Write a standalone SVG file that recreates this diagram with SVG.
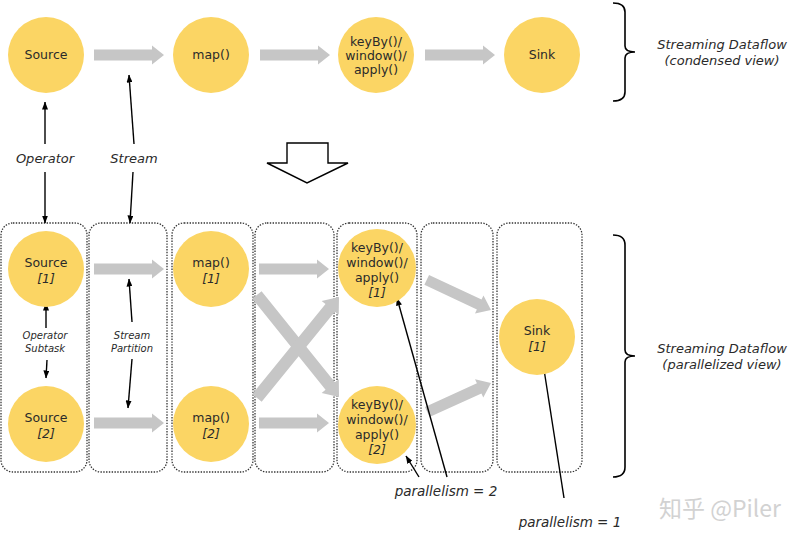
<svg xmlns="http://www.w3.org/2000/svg" width="811" height="540" viewBox="0 0 811 540">
<defs>
<style>
.op{fill:#fbd564;}
.t{font-family:"DejaVu Sans",Verdana,sans-serif;font-size:12.5px;fill:#2a2a2a;text-anchor:middle;}
.ti{font-family:"DejaVu Sans",Verdana,sans-serif;font-size:12.5px;font-style:italic;fill:#2a2a2a;text-anchor:middle;}
.pl{font-family:"DejaVu Sans",Verdana,sans-serif;font-size:13.5px;font-style:italic;fill:#2a2a2a;text-anchor:middle;}
.lab{font-family:"DejaVu Sans",Verdana,sans-serif;font-size:13px;font-style:italic;fill:#2a2a2a;text-anchor:middle;}
.sm{font-family:"DejaVu Sans",Verdana,sans-serif;font-size:10px;font-style:italic;fill:#2a2a2a;text-anchor:middle;}
.box{fill:none;stroke:#333;stroke-width:1.3;stroke-dasharray:1.4 1.4;}
.ga{fill:#c6c6c6;}
.bl{stroke:#000;stroke-width:1.4;fill:none;marker-end:url(#ah);}
.br{stroke:#000;stroke-width:1.6;fill:none;}
</style>
<marker id="ah" viewBox="0 0 8 6" refX="7.5" refY="3" markerWidth="8" markerHeight="6" markerUnits="userSpaceOnUse" orient="auto">
<path d="M0,0 L8,3 L0,6 z" fill="#000"/>
</marker>
</defs>
<rect width="811" height="540" fill="#fff"/>

<g id="partition-boxes">
<rect class="box" x="1" y="223" width="86" height="249" rx="12"/>
<rect class="box" x="89" y="223" width="78" height="249" rx="12"/>
<rect class="box" x="172" y="223" width="81" height="249" rx="12"/>
<rect class="box" x="255" y="223" width="79" height="249" rx="12"/>
<rect class="box" x="337" y="223" width="80" height="249" rx="12"/>
<rect class="box" x="421" y="223" width="72" height="249" rx="12"/>
<rect class="box" x="497" y="223" width="85" height="249" rx="12"/>
</g>

<g id="connectors">
<polygon class="ga" transform="translate(164,55)" points="0,0 -12,-9.5 -12,-5.5 -70,-5.5 -70,5.5 -12,5.5 -12,9.5"/>
<polygon class="ga" transform="translate(330,55)" points="0,0 -12,-9.5 -12,-5.5 -70,-5.5 -70,5.5 -12,5.5 -12,9.5"/>
<polygon class="ga" transform="translate(495,55)" points="0,0 -12,-9.5 -12,-5.5 -70,-5.5 -70,5.5 -12,5.5 -12,9.5"/>
<polygon class="ga" transform="translate(164,269)" points="0,0 -12,-9.5 -12,-5.5 -70,-5.5 -70,5.5 -12,5.5 -12,9.5"/>
<polygon class="ga" transform="translate(164,423)" points="0,0 -12,-9.5 -12,-5.5 -70,-5.5 -70,5.5 -12,5.5 -12,9.5"/>
<polygon class="ga" transform="translate(329,269)" points="0,0 -12,-9.5 -12,-5.5 -70,-5.5 -70,5.5 -12,5.5 -12,9.5"/>
<polygon class="ga" transform="translate(329,423)" points="0,0 -12,-9.5 -12,-5.5 -70,-5.5 -70,5.5 -12,5.5 -12,9.5"/>
<polygon class="ga" transform="translate(339,397) rotate(51.2)" points="0,0 -14,-11 -14,-6 -131,-6 -131,6 -14,6 -14,11"/>
<polygon class="ga" transform="translate(339,297) rotate(-50.9)" points="0,0 -14,-11 -14,-6 -130,-6 -130,6 -14,6 -14,11"/>
<polygon class="ga" transform="translate(491,310) rotate(25.1)" points="0,0 -13,-10 -13,-5.5 -71,-5.5 -71,5.5 -13,5.5 -13,10"/>
<polygon class="ga" transform="translate(491,383) rotate(-24.4)" points="0,0 -13,-10 -13,-5.5 -70,-5.5 -70,5.5 -13,5.5 -13,10"/>
<line class="bl" x1="45" y1="144" x2="45" y2="102"/>
<line class="bl" x1="45" y1="172" x2="45" y2="223"/>
<line class="bl" x1="134" y1="144" x2="129" y2="75"/>
<line class="bl" x1="133" y1="172" x2="130" y2="223"/>
<line class="bl" x1="46" y1="328" x2="46" y2="303"/>
<line class="bl" x1="47" y1="360" x2="46" y2="378"/>
<line class="bl" x1="132" y1="322" x2="129" y2="279"/>
<line class="bl" x1="132" y1="359" x2="128" y2="408"/>
<line class="bl" x1="447" y1="477" x2="397" y2="298"/>
<line class="bl" x1="419" y1="477" x2="406" y2="456"/>
<line class="bl" x1="564" y1="498" x2="543" y2="363"/>
</g>

<g id="expand-arrow">
<polygon points="287,143 328,143 328,163 348,163 307,183 267,163 287,163" fill="#fff" stroke="#000" stroke-width="1.4"/>
</g>

<g id="source">
<circle class="op" cx="46" cy="55" r="38"/>
<text class="t" x="46" y="59">Source</text>
</g>
<g id="map">
<circle class="op" cx="211" cy="55" r="38"/>
<text class="t" x="211" y="59">map()</text>
</g>
<g id="keyby">
<circle class="op" cx="376" cy="55" r="38"/>
<text class="t" x="376" y="46">keyBy()/</text>
<text class="t" x="376" y="60">window()/</text>
<text class="t" x="376" y="74">apply()</text>
</g>
<g id="sink">
<circle class="op" cx="542" cy="55" r="38"/>
<text class="t" x="542" y="59">Sink</text>
</g>

<g id="source-1">
<circle class="op" cx="46" cy="269" r="38"/>
<text class="t" x="46" y="267">Source</text>
<text class="ti" x="46" y="283">[1]</text>
</g>
<g id="source-2">
<circle class="op" cx="46" cy="424" r="38"/>
<text class="t" x="46" y="422">Source</text>
<text class="ti" x="46" y="438">[2]</text>
</g>
<g id="map-1">
<circle class="op" cx="211" cy="269" r="38"/>
<text class="t" x="211" y="267">map()</text>
<text class="ti" x="211" y="283">[1]</text>
</g>
<g id="map-2">
<circle class="op" cx="211" cy="424" r="38"/>
<text class="t" x="211" y="422">map()</text>
<text class="ti" x="211" y="438">[2]</text>
</g>
<g id="keyby-1">
<circle class="op" cx="377" cy="268" r="39"/>
<text class="t" x="377" y="252">keyBy()/</text>
<text class="t" x="377" y="267">window()/</text>
<text class="t" x="377" y="282">apply()</text>
<text class="ti" x="377" y="297">[1]</text>
</g>
<g id="keyby-2">
<circle class="op" cx="377" cy="425" r="39"/>
<text class="t" x="377" y="409">keyBy()/</text>
<text class="t" x="377" y="424">window()/</text>
<text class="t" x="377" y="439">apply()</text>
<text class="ti" x="377" y="454">[2]</text>
</g>
<g id="sink-1">
<circle class="op" cx="537" cy="337" r="38"/>
<text class="t" x="537" y="335">Sink</text>
<text class="ti" x="537" y="351">[1]</text>
</g>

<g id="labels">
<text class="lab" x="45" y="163">Operator</text>
<text class="lab" x="134" y="163">Stream</text>
<text class="sm" x="45" y="339">Operator</text>
<text class="sm" x="45" y="352">Subtask</text>
<text class="sm" x="132" y="339">Stream</text>
<text class="sm" x="132" y="352">Partition</text>
<text class="pl" x="446" y="496">parallelism = 2</text>
<text class="pl" x="570" y="527">parallelism = 1</text>
<text class="lab" x="722" y="49">Streaming Dataflow</text>
<text class="lab" x="722" y="65">(condensed view)</text>
<text class="lab" x="722" y="353">Streaming Dataflow</text>
<text class="lab" x="722" y="369">(parallelized view)</text>
</g>

<g id="braces">
<path class="br" d="M613,3 Q625,3 625,12 L625,46 Q625,52 635,52 Q625,52 625,58 L625,92 Q625,101 613,101"/>
<path class="br" d="M613,235 Q625,235 625,245 L625,350 Q625,356 635,356 Q625,356 625,362 L625,467 Q625,477 613,477"/>
</g>

<text x="659" y="517" font-family="'Noto Sans CJK SC',sans-serif" font-size="23" fill="#d2d2d2">知乎 @Piler</text>
</svg>
